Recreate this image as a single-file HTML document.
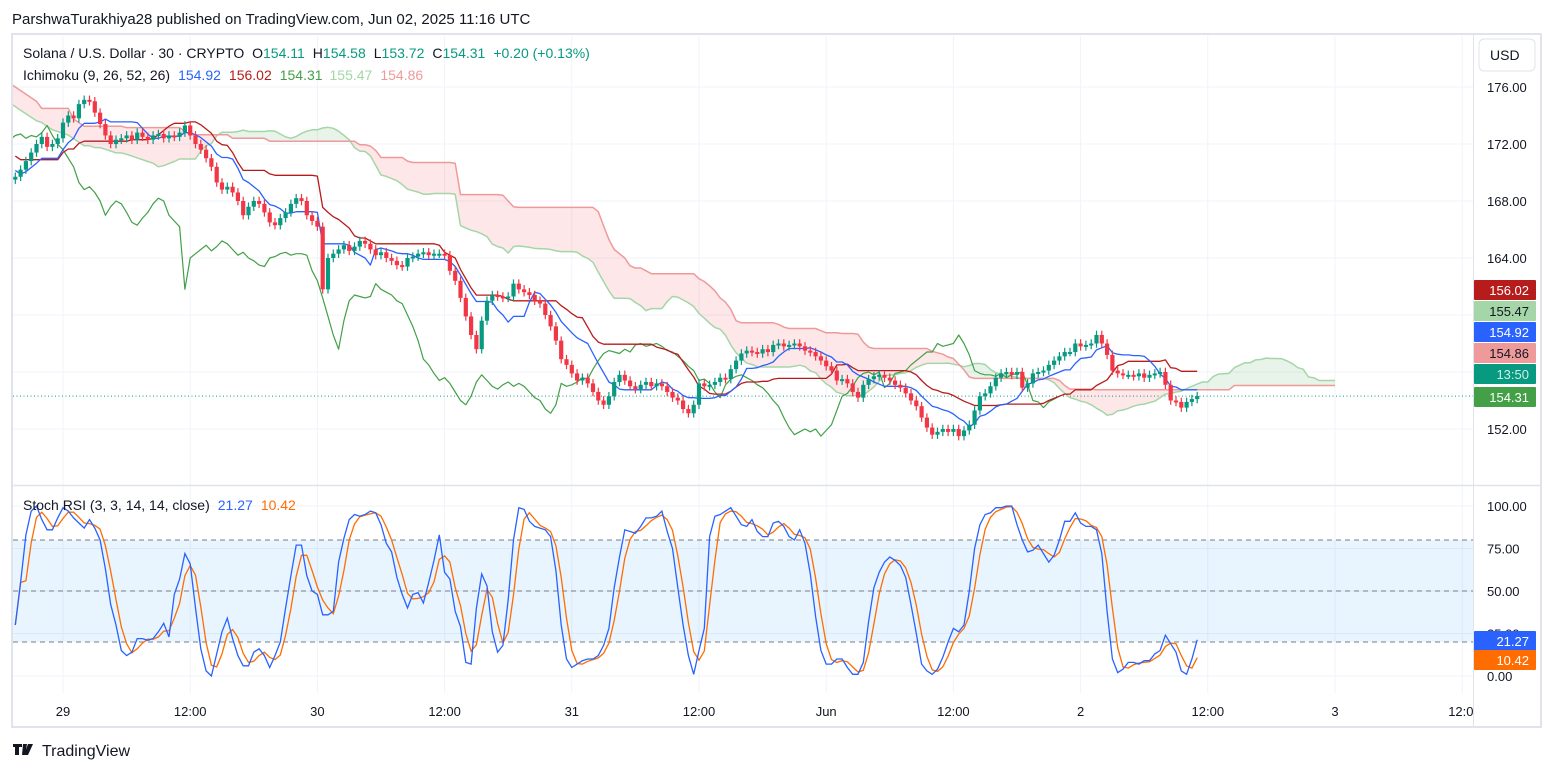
<!DOCTYPE html>
<html><head><meta charset="utf-8">
<style>
html,body{margin:0;padding:0;background:#fff;}
body{width:1553px;height:772px;overflow:hidden;font-family:"Liberation Sans",sans-serif;}
svg text{font-family:"Liberation Sans",sans-serif;}
</style></head>
<body>
<svg id="chart" width="1553" height="772" viewBox="0 0 1553 772" xmlns="http://www.w3.org/2000/svg">
<defs>
<clipPath id="mainClip"><rect x="13" y="36" width="1460" height="449"/></clipPath>
<clipPath id="stochClip"><rect x="13" y="486" width="1460" height="207"/></clipPath>
</defs>
<text x="12" y="24" font-size="15" fill="#131722">ParshwaTurakhiya28 published on TradingView.com, Jun 02, 2025 11:16 UTC</text>
<rect x="12" y="34" width="1529" height="693" fill="#fff" stroke="#e0e3eb" stroke-width="2"/>
<g id="grid"></g>
<g id="stochBg"></g>
<g id="cloud" clip-path="url(#mainClip)"></g>
<g id="lines" clip-path="url(#mainClip)"></g>
<g id="candles" clip-path="url(#mainClip)"></g>
<g id="stoch" clip-path="url(#stochClip)"></g>
<line x1="12" y1="485.5" x2="1541" y2="485.5" stroke="#e0e3eb" stroke-width="1.5"/>
<line x1="1473.5" y1="35" x2="1473.5" y2="727" stroke="#e0e3eb" stroke-width="1"/>
<g id="axes"></g>
<g font-size="14">
<text x="23" y="58" fill="#131722">Solana / U.S. Dollar · 30 · CRYPTO <tspan dx="4">O</tspan><tspan fill="#089981">154.11</tspan><tspan dx="8">H</tspan><tspan fill="#089981">154.58</tspan><tspan dx="8">L</tspan><tspan fill="#089981">153.72</tspan><tspan dx="8">C</tspan><tspan fill="#089981">154.31</tspan><tspan dx="8" fill="#089981">+0.20 (+0.13%)</tspan></text>
<text x="23" y="80" fill="#131722">Ichimoku (9, 26, 52, 26)<tspan dx="8" fill="#2962ff">154.92</tspan><tspan dx="8" fill="#b71c1c">156.02</tspan><tspan dx="8" fill="#43a047">154.31</tspan><tspan dx="8" fill="#a5d6a7">155.47</tspan><tspan dx="8" fill="#ef9a9a">154.86</tspan></text>
<text x="23" y="510" fill="#131722">Stoch RSI (3, 3, 14, 14, close)<tspan dx="8" fill="#2962ff">21.27</tspan><tspan dx="8" fill="#ff6d00">10.42</tspan></text>
</g>
<rect x="1479" y="39" width="56" height="32" rx="5" fill="#fff" stroke="#e0e3eb"/>
<text x="1490" y="60" font-size="14" fill="#131722">USD</text>
<g>
<path d="M13 744h9v3h-3v8h-4v-8h-2z M23 744h4l-2 11h-3z M28 744h5l-5 11h-4z" fill="#131722"/>
<text x="42" y="756" font-size="16" fill="#131722">TradingView</text>
</g>
</svg>
<script>
// ---- data ----
const preCloses = [176,177,178,178.5,179,178,177,176.5,177,177.5,178,177,176,175.5,176,176.5,177,176,175,174.5,175,175.5,176,175,174,173.5,174,174.5,175,176,176.5,177,176.5,176,175.5,175,174.5,175,175.5,176,176,175.5,175,174.5,174,174.5,175,175.5,175,174.5,174,173.5,173,172.5,172,171.5,171,171.5,172,172.5,172,171.5,171,170.5,170,169.5,169.8,170.2,170.6,171,170.5,170,169.6,169.3,169.5,169.8,170,169.5];
const closes = [
169.7,170.2,170.8,171.4,172.0,172.5,171.8,172.0,172.4,173.5,
174.0,173.8,174.8,175.1,175.0,174.2,173.4,172.6,172.0,172.3,
172.4,172.6,172.3,172.8,172.5,172.3,172.6,172.7,172.4,172.6,
172.5,172.8,173.3,172.6,172.0,171.6,171.0,170.4,169.3,168.8,
169.0,168.6,168.0,167.0,167.6,168.0,167.8,167.2,166.5,166.3,
166.8,167.2,167.8,168.2,168.0,167.0,166.6,166.2,161.8,164.0,
164.3,164.6,164.9,164.5,164.8,165.2,165.0,164.6,164.2,164.4,
164.0,163.8,163.5,163.4,164.0,164.1,164.3,164.4,164.2,164.3,
164.3,164.2,163.1,162.4,161.2,159.9,158.6,157.6,159.6,161.0,
161.4,161.3,161.2,161.3,162.2,161.8,161.6,161.4,161.0,160.8,
160.0,159.2,158.2,156.9,156.5,155.9,155.4,155.6,155.2,154.6,
154.0,153.7,154.3,155.3,155.8,155.4,155.0,154.8,155.1,155.3,
155.0,155.2,155.0,154.6,154.2,154.0,153.4,153.1,153.7,155.2,
155.0,155.1,155.3,155.6,155.5,156.2,156.8,157.3,157.5,157.4,
157.3,157.6,157.4,157.9,158.0,157.8,157.9,158.0,157.8,157.5,
157.4,157.1,156.8,156.4,156.1,155.4,155.5,155.2,154.6,154.2,
155.1,155.5,155.7,155.8,155.6,155.4,155.1,154.9,154.5,154.0,
153.6,152.8,152.1,151.6,151.8,152.0,151.8,152.0,151.5,151.9,
152.3,153.3,154.3,154.5,155.0,155.6,155.9,156.0,155.8,156.0,
154.9,155.2,155.9,156.0,156.1,156.5,156.8,157.1,157.4,157.4,
158.0,157.8,157.9,158.0,158.6,158.0,157.2,156.1,155.9,155.8,
155.8,155.7,155.9,155.6,155.8,155.9,156.0,155.1,154.0,153.9,
153.5,153.9,154.1,154.31];
const stochK = [
30,55,83,97,100,92,86,86,93,99,
97,93,90,87,92,87,80,63,42,30,
15,12,14,22,22,21,22,26,31,23,
48,57,72,66,40,16,3,0,13,26,
34,22,12,6,6,14,16,12,5,12,
20,40,59,77,77,59,50,48,36,36,
38,67,81,92,95,94,95,97,96,89,
78,73,58,48,40,48,49,43,55,68,
83,61,57,38,29,8,7,40,60,53,
26,14,18,45,80,99,98,91,88,87,
86,82,62,30,10,5,7,9,10,10,
12,18,28,52,70,86,85,84,88,93,
93,94,97,85,75,52,30,12,1,15,
28,82,94,95,97,99,94,89,88,92,
85,82,82,90,91,88,82,80,86,78,
60,35,15,7,7,10,10,5,1,1,
8,32,52,61,67,70,68,65,58,42,
25,7,3,1,4,11,20,28,26,30,
50,75,89,95,96,99,99,100,100,89,
80,73,74,77,72,67,71,80,91,91,
96,90,88,88,86,72,38,10,2,4,
8,8,7,9,9,13,15,24,19,14,
3,1,10,21.27];
const priceTicks = [176,172,168,164,152];
const stochTicks = [100,75,50,0];
const timeLabels = ["29","12:00","30","12:00","31","12:00","Jun","12:00","2","12:00","3","12:00"];

// ---- scales ----
const NS='http://www.w3.org/2000/svg';
const BAR=5.3, X0=15.3;
const xOf = i => X0 + BAR*i;
const yP = p => 87 + (176-p)*14.25;
const yS = v => 676 - v*1.7;
function mk(tag, attrs, parent){const e=document.createElementNS(NS,tag);for(const k in attrs)e.setAttribute(k,attrs[k]);parent.appendChild(e);return e;}

// ---- candles (OHLC from closes) ----
const allC = preCloses.concat(closes);
const P = preCloses.length;
const opens=[], highs=[], lows=[];
for(let j=0;j<allC.length;j++){
  const o = j===0?allC[0]:allC[j-1], c=allC[j];
  opens.push(o); highs.push(Math.max(o,c)+0.3); lows.push(Math.min(o,c)-0.3);
}
const gC=document.getElementById('candles');
for(let i=0;i<closes.length;i++){
  const j=i+P, o=opens[j], c=closes[i], up=c>=o, col=up?'#089981':'#f23645';
  const x=xOf(i);
  const w=mk('line',{x1:x,x2:x,y1:yP(highs[j]),y2:yP(lows[j]),stroke:col,'stroke-width':1.2},gC);
  
  
  const top=yP(Math.max(o,c)), h=Math.max(2,Math.abs(yP(o)-yP(c)));
  const b=mk('rect',{x:x-2.1,y:top,width:4.2,height:h,fill:col},gC);
  
  
}

// ---- ichimoku ----
function mid(j,n){let hi=-1e9,lo=1e9;for(let k=Math.max(0,j-n+1);k<=j;k++){hi=Math.max(hi,highs[k]);lo=Math.min(lo,lows[k]);}return (hi+lo)/2;}
const N=allC.length;
const tenkan=[],kijun=[],spanA={},spanB={};
for(let j=0;j<N;j++){tenkan[j]=mid(j,9);kijun[j]=mid(j,26);spanA[j+26]=(tenkan[j]+kijun[j])/2;spanB[j+26]=mid(j,52);}
const gL=document.getElementById('lines'), gCl=document.getElementById('cloud');
function poly(pts,color,name,width){
  const e=mk('polyline',{points:pts.map(p=>p[0].toFixed(1)+','+p[1].toFixed(1)).join(' '),fill:'none',stroke:color,'stroke-width':width||1.3,'stroke-linejoin':'round'},gL);
  
  
}
// cloud fill: merge consecutive segments of same colour
let run=null;
function flush(){
  if(!run)return;
  const pts=run.a.concat(run.b.slice().reverse());
  const e=mk('polygon',{points:pts.map(p=>p[0].toFixed(1)+','+p[1].toFixed(1)).join(' '),fill:run.g?'rgba(67,160,71,0.12)':'rgba(242,54,69,0.12)',stroke:'none'},gCl);
  
  
  run=null;
}
for(let j=P-3;j<N+26-1;j++){
  if(spanA[j]===undefined||spanA[j+1]===undefined)continue;
  const i=j-P, a0=spanA[j],b0=spanB[j],a1=spanA[j+1],b1=spanB[j+1];
  const g=(a0+a1)>=(b0+b1);
  if(run&&run.g!==g){run.a.push([xOf(i),yP(a0)]);run.b.push([xOf(i),yP(b0)]);flush();}
  if(!run){run={g:g,a:[[xOf(i),yP(a0)]],b:[[xOf(i),yP(b0)]]};}
  run.a.push([xOf(i+1),yP(a1)]);run.b.push([xOf(i+1),yP(b1)]);
}
flush();
const aPts=[],bPts=[],tPts=[],kPts=[],lagPts=[];
for(let j=P-3;j<N+26;j++){const i=j-P;if(spanA[j]!==undefined){aPts.push([xOf(i),yP(spanA[j])]);bPts.push([xOf(i),yP(spanB[j])]);}}
for(let j=P;j<N;j++){const i=j-P;tPts.push([xOf(i),yP(tenkan[j])]);kPts.push([xOf(i),yP(kijun[j])]);}
for(let j=P-3;j<N;j++){lagPts.push([xOf(j-P-26),yP(allC[j])]);}
poly(aPts,'#a5d6a7','senkou-span-a',1.5);
poly(bPts,'#ef9a9a','senkou-span-b',1.5);
poly(lagPts,'#43a047','lagging-span',1.2);
poly(kPts,'#b71c1c','kijun-sen',1.3);
poly(tPts,'#2962ff','tenkan-sen',1.3);

// ---- stoch ----
const stochD = stochK.map((v,i)=>i<2?v:(stochK[i]+stochK[i-1]+stochK[i-2])/3);
const gS=document.getElementById('stoch');
const kl=mk('polyline',{points:stochD.map((v,i)=>xOf(i).toFixed(1)+','+yS(v).toFixed(1)).join(' '),fill:'none',stroke:'#ff6d00','stroke-width':1.3},gS);


const dl=mk('polyline',{points:stochK.map((v,i)=>xOf(i).toFixed(1)+','+yS(v).toFixed(1)).join(' '),fill:'none',stroke:'#2962ff','stroke-width':1.3},gS);



// ---- grid & bands ----
const gG=document.getElementById('grid');
[176,172,168,164,160,156,152].forEach(p=>{const e=mk('line',{x1:13,x2:1473,y1:yP(p),y2:yP(p),stroke:'#f0f3fa','stroke-width':1},gG);});
[100,75,50,25,0].forEach(v=>{const e=mk('line',{x1:13,x2:1473,y1:yS(v),y2:yS(v),stroke:'#f0f3fa','stroke-width':1},gG);});
timeLabels.forEach((t,k)=>{const x=63+127.2*k;const e=mk('line',{x1:x,x2:x,y1:36,y2:693,stroke:'#f0f3fa','stroke-width':1},gG);});
const gB=document.getElementById('stochBg');
const band=mk('rect',{x:13,y:yS(80),width:1460,height:yS(20)-yS(80),fill:'rgba(33,150,243,0.1)'},gB);


[80,50,20].forEach(v=>{const e=mk('line',{x1:13,x2:1473,y1:yS(v),y2:yS(v),stroke:'#787b86','stroke-width':1,'stroke-dasharray':'5,4'},gB);});
const lp=mk('line',{x1:13,x2:1473,y1:yP(154.31),y2:yP(154.31),stroke:'#089981','stroke-width':1,'stroke-dasharray':'1,2.5'},gB);



// ---- axes ----
const gA=document.getElementById('axes');
function txt(x,y,s,fill,anchor,name){const e=mk('text',{x:x,y:y,'font-size':13,fill:fill,'text-anchor':anchor||'start'},gA);e.textContent=s;return e;}
priceTicks.forEach(p=>txt(1487,yP(p)+5,p.toFixed(2),'#131722','start','price-tick'));
stochTicks.forEach(v=>txt(1487,yS(v)+5,v.toFixed(2),'#131722','start','stoch-tick'));
txt(1487,yS(25)+5,'25.00','#131722','start','stoch-tick');
timeLabels.forEach((t,k)=>{const x=63+127.2*k;const e=txt(x,716,t,'#131722','middle','time-tick');if(k===11){e.setAttribute('text-anchor','start');e.setAttribute('x',x-14);e.textContent='12:0';}});
function badge(y,label,bg,fg,name){
  const r=mk('rect',{x:1474,y:y-10,width:62,height:20,fill:bg,rx:1},gA);
  
  
  txt(1529,y+5,label,fg,'end',name+'-text');
}
badge(290,'156.02','#b71c1c','#fff','kijun-badge');
badge(311,'155.47','#a5d6a7','#131722','span-a-badge');
badge(332,'154.92','#2962ff','#fff','tenkan-badge');
badge(353,'154.86','#ef9a9a','#131722','span-b-badge');
badge(374,'13:50','#089981','#cfeee8','countdown-badge');
badge(397,'154.31','#43a047','#fff','last-price-badge');
badge(641,'21.27','#2962ff','#fff','stoch-k-badge');
badge(660,'10.42','#ff6d00','#fff','stoch-d-badge');
</script>
</body></html>
